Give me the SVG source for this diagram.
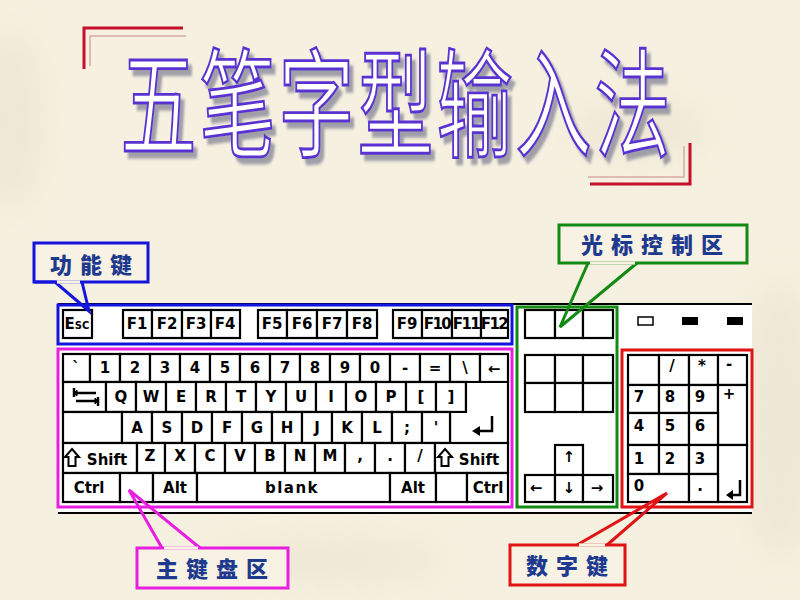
<svg xmlns="http://www.w3.org/2000/svg" width="800" height="600" viewBox="0 0 800 600">
<defs>
<filter id="blur" x="-50%" y="-50%" width="200%" height="200%"><feGaussianBlur stdDeviation="18"/></filter>
<filter id="shadow" x="-10%" y="-10%" width="130%" height="130%"><feDropShadow dx="4" dy="4" stdDeviation="1" flood-color="#8a8a9a" flood-opacity="0.8"/></filter>
<style>
.k{fill:#fff;stroke:#000;stroke-width:2.2}
.t{font-family:"DejaVu Sans","Liberation Sans",sans-serif;font-weight:bold;font-size:15px;text-anchor:middle;fill:#000}
.cap{font-family:"Noto Sans CJK SC",sans-serif;font-weight:900;font-size:22px;fill:#1e3a8e;text-anchor:middle;letter-spacing:8px}
.box{fill:#f8f2e4;stroke-width:3}
.ic{fill:none;stroke:#000;stroke-width:2.5}
</style>
</defs>
<rect width="800" height="600" fill="#f6f0e0"/>
<g opacity="0.4" filter="url(#blur)" fill="#e2d8c2">
<ellipse cx="10" cy="120" rx="30" ry="90"/>
<ellipse cx="780" cy="420" rx="35" ry="140"/>
<ellipse cx="640" cy="130" rx="70" ry="25"/>
<ellipse cx="330" cy="560" rx="120" ry="20"/>
</g>

<g id="title">
<path d="M84,69 V28 H183" fill="none" stroke="#c4102c" stroke-width="3"/>
<path d="M90,66 V36 H186" fill="none" stroke="#d8a8a8" stroke-width="1.5"/>
<path d="M690,143 V184 H590" fill="none" stroke="#c4102c" stroke-width="3"/>
<path d="M684,146 V177 H588" fill="none" stroke="#d8a8a8" stroke-width="1.5"/>
<text transform="translate(397,148) scale(1,1.55)" x="0" y="0" filter="url(#shadow)" style="font-family:'Noto Sans CJK SC',sans-serif;font-size:76px;font-weight:normal;fill:#fff;stroke:#5a32d2;stroke-width:1.8;text-anchor:middle;letter-spacing:3px">五笔字型输入法</text>
</g>

<g id="keyboard">
<rect x="58" y="304" width="694" height="209" fill="#fff"/>
<line x1="58" y1="304" x2="752" y2="304" stroke="#000" stroke-width="2"/>
<line x1="58" y1="513" x2="752" y2="513" stroke="#000" stroke-width="2"/>

<g id="function-keys">
<rect class="k" x="63" y="310" width="29" height="28"/>
<text class="t" x="77" y="329">E<tspan font-size="10px">SC</tspan></text>
<rect class="k" x="123" y="310" width="29" height="28"/><text class="t" x="137" y="329">F1</text>
<rect class="k" x="152" y="310" width="30" height="28"/><text class="t" x="167" y="329">F2</text>
<rect class="k" x="182" y="310" width="29" height="28"/><text class="t" x="196" y="329">F3</text>
<rect class="k" x="211" y="310" width="29" height="28"/><text class="t" x="225" y="329">F4</text>
<rect class="k" x="258" y="310" width="29" height="28"/><text class="t" x="272" y="329">F5</text>
<rect class="k" x="287" y="310" width="30" height="28"/><text class="t" x="302" y="329">F6</text>
<rect class="k" x="317" y="310" width="30" height="28"/><text class="t" x="332" y="329">F7</text>
<rect class="k" x="347" y="310" width="30" height="28"/><text class="t" x="362" y="329">F8</text>
<rect class="k" x="393" y="310" width="29" height="28"/><text class="t" x="407" y="329">F9</text>
<rect class="k" x="422" y="310" width="30" height="28"/><text class="t" x="437" y="329" letter-spacing="-1.5">F10</text>
<rect class="k" x="452" y="310" width="29" height="28"/><text class="t" x="466" y="329" letter-spacing="-1.5">F11</text>
<rect class="k" x="481" y="310" width="27" height="28"/><text class="t" x="494" y="329" letter-spacing="-1.5">F12</text>
</g>

<g id="main-keys">
<rect class="k" x="63" y="354" width="27" height="28"/><text class="t" x="76" y="373">`</text>
<rect class="k" x="90" y="354" width="30" height="28"/><text class="t" x="105" y="373">1</text>
<rect class="k" x="120" y="354" width="30" height="28"/><text class="t" x="135" y="373">2</text>
<rect class="k" x="150" y="354" width="30" height="28"/><text class="t" x="165" y="373">3</text>
<rect class="k" x="180" y="354" width="30" height="28"/><text class="t" x="195" y="373">4</text>
<rect class="k" x="210" y="354" width="30" height="28"/><text class="t" x="225" y="373">5</text>
<rect class="k" x="240" y="354" width="30" height="28"/><text class="t" x="255" y="373">6</text>
<rect class="k" x="270" y="354" width="30" height="28"/><text class="t" x="285" y="373">7</text>
<rect class="k" x="300" y="354" width="30" height="28"/><text class="t" x="315" y="373">8</text>
<rect class="k" x="330" y="354" width="30" height="28"/><text class="t" x="345" y="373">9</text>
<rect class="k" x="360" y="354" width="30" height="28"/><text class="t" x="375" y="373">0</text>
<rect class="k" x="390" y="354" width="30" height="28"/><text class="t" x="405" y="373">-</text>
<rect class="k" x="420" y="354" width="30" height="28"/><text class="t" x="435" y="373">=</text>
<rect class="k" x="450" y="354" width="30" height="28"/><text class="t" x="465" y="373">\</text>
<rect class="k" x="480" y="354" width="28" height="28"/><text class="t" x="494" y="374" font-size="18px">←</text>

<rect class="k" x="63" y="382" width="43" height="30"/>
<path class="ic" d="M74,393 H96 M74,388 V397 M76,401 H98 M98,397 V406" stroke-width="2"/>
<path d="M77,390 L74,393 L77,396 Z M95,398 L98,401 L95,404 Z" fill="#000" stroke="#000" stroke-width="1"/>
<rect class="k" x="106" y="382" width="30" height="30"/><text class="t" x="121" y="402">Q</text>
<rect class="k" x="136" y="382" width="30" height="30"/><text class="t" x="151" y="402">W</text>
<rect class="k" x="166" y="382" width="30" height="30"/><text class="t" x="181" y="402">E</text>
<rect class="k" x="196" y="382" width="30" height="30"/><text class="t" x="211" y="402">R</text>
<rect class="k" x="226" y="382" width="30" height="30"/><text class="t" x="241" y="402">T</text>
<rect class="k" x="256" y="382" width="30" height="30"/><text class="t" x="271" y="402">Y</text>
<rect class="k" x="286" y="382" width="30" height="30"/><text class="t" x="301" y="402">U</text>
<rect class="k" x="316" y="382" width="30" height="30"/><text class="t" x="331" y="402">I</text>
<rect class="k" x="346" y="382" width="30" height="30"/><text class="t" x="361" y="402">O</text>
<rect class="k" x="376" y="382" width="30" height="30"/><text class="t" x="391" y="402">P</text>
<rect class="k" x="406" y="382" width="30" height="30"/><text class="t" x="421" y="402">[</text>
<rect class="k" x="436" y="382" width="30" height="30"/><text class="t" x="451" y="402">]</text>
<path class="k" d="M466,382 H508 V443 H450 V412 H466 Z"/>
<path class="ic" d="M492,416 V431 H478" stroke-width="3"/>
<path d="M480,426 L472,431 L480,436 Z" fill="#000"/>

<rect class="k" x="63" y="412" width="59" height="31"/>
<rect class="k" x="122" y="412" width="30" height="31"/><text class="t" x="137" y="433">A</text>
<rect class="k" x="152" y="412" width="30" height="31"/><text class="t" x="167" y="433">S</text>
<rect class="k" x="182" y="412" width="30" height="31"/><text class="t" x="197" y="433">D</text>
<rect class="k" x="212" y="412" width="30" height="31"/><text class="t" x="227" y="433">F</text>
<rect class="k" x="242" y="412" width="30" height="31"/><text class="t" x="257" y="433">G</text>
<rect class="k" x="272" y="412" width="30" height="31"/><text class="t" x="287" y="433">H</text>
<rect class="k" x="302" y="412" width="30" height="31"/><text class="t" x="317" y="433">J</text>
<rect class="k" x="332" y="412" width="30" height="31"/><text class="t" x="347" y="433">K</text>
<rect class="k" x="362" y="412" width="30" height="31"/><text class="t" x="377" y="433">L</text>
<rect class="k" x="392" y="412" width="30" height="31"/><text class="t" x="407" y="433">;</text>
<rect class="k" x="422" y="412" width="28" height="31"/><text class="t" x="436" y="433">'</text>

<rect class="k" x="63" y="443" width="74" height="30"/>
<path d="M72,449 L79,457 H75.5 V466 H68.5 V457 H65 Z" fill="#fff" stroke="#000" stroke-width="2" stroke-linejoin="miter"/>
<text class="t" x="107" y="465">Shift</text>
<rect class="k" x="137" y="443" width="28" height="30"/><text class="t" x="150" y="461">Z</text>
<rect class="k" x="165" y="443" width="30" height="30"/><text class="t" x="180" y="461">X</text>
<rect class="k" x="195" y="443" width="30" height="30"/><text class="t" x="210" y="461">C</text>
<rect class="k" x="225" y="443" width="30" height="30"/><text class="t" x="240" y="461">V</text>
<rect class="k" x="255" y="443" width="30" height="30"/><text class="t" x="270" y="461">B</text>
<rect class="k" x="285" y="443" width="30" height="30"/><text class="t" x="300" y="461">N</text>
<rect class="k" x="315" y="443" width="30" height="30"/><text class="t" x="330" y="461">M</text>
<rect class="k" x="345" y="443" width="30" height="30"/><text class="t" x="360" y="461">,</text>
<rect class="k" x="375" y="443" width="30" height="30"/><text class="t" x="390" y="461">.</text>
<rect class="k" x="405" y="443" width="30" height="30"/><text class="t" x="420" y="461">/</text>
<rect class="k" x="435" y="443" width="73" height="30"/>
<path d="M445,449 L452,457 H448.5 V466 H441.5 V457 H438 Z" fill="#fff" stroke="#000" stroke-width="2" stroke-linejoin="miter"/>
<text class="t" x="479" y="465">Shift</text>

<rect class="k" x="63" y="473" width="57" height="29"/><text class="t" x="89" y="493">Ctrl</text>
<rect class="k" x="120" y="473" width="33" height="29"/>
<rect class="k" x="153" y="473" width="44" height="29"/><text class="t" x="175" y="493">Alt</text>
<rect class="k" x="197" y="473" width="193" height="29"/><text class="t" x="292" y="493" letter-spacing="1.5">blank</text>
<rect class="k" x="390" y="473" width="46" height="29"/><text class="t" x="413" y="493">Alt</text>
<rect class="k" x="436" y="473" width="31" height="29"/>
<rect class="k" x="467" y="473" width="41" height="29"/><text class="t" x="488" y="493">Ctrl</text>
</g>

<g id="cursor-keys">
<rect class="k" x="525" y="310" width="30" height="28"/>
<rect class="k" x="555" y="310" width="28" height="28"/>
<rect class="k" x="583" y="310" width="30" height="28"/>
<rect class="k" x="525" y="355" width="30" height="28"/>
<rect class="k" x="555" y="355" width="28" height="28"/>
<rect class="k" x="583" y="355" width="30" height="28"/>
<rect class="k" x="525" y="383" width="30" height="29"/>
<rect class="k" x="555" y="383" width="28" height="29"/>
<rect class="k" x="583" y="383" width="30" height="29"/>
<rect class="k" x="555" y="445" width="28" height="30"/><text class="t" x="569" y="462" font-size="13px">↑</text>
<rect class="k" x="525" y="475" width="30" height="27"/><text class="t" x="536" y="493" font-size="13px">←</text>
<rect class="k" x="555" y="475" width="28" height="27"/><text class="t" x="569" y="493" font-size="13px">↓</text>
<rect class="k" x="583" y="475" width="30" height="27"/><text class="t" x="597" y="493" font-size="13px">→</text>
</g>

<g id="numpad">
<rect x="638" y="317" width="15" height="8" fill="#fff" stroke="#000" stroke-width="1.5"/>
<rect x="682" y="317" width="16" height="8" fill="#000"/>
<rect x="727" y="317" width="16" height="8" fill="#000"/>
<rect class="k" x="628" y="355" width="31" height="30"/>
<rect class="k" x="659" y="355" width="30" height="30"/><text class="t" x="672" y="371">/</text>
<rect class="k" x="689" y="355" width="29" height="30"/><text class="t" x="702" y="371">*</text>
<rect class="k" x="718" y="355" width="29" height="30"/><text class="t" x="729" y="369">-</text>
<rect class="k" x="628" y="385" width="31" height="28"/><text class="t" x="639" y="402">7</text>
<rect class="k" x="659" y="385" width="30" height="28"/><text class="t" x="670" y="402">8</text>
<rect class="k" x="689" y="385" width="29" height="28"/><text class="t" x="700" y="402">9</text>
<rect class="k" x="718" y="385" width="29" height="60"/><text class="t" x="729" y="399">+</text>
<rect class="k" x="628" y="413" width="31" height="32"/><text class="t" x="639" y="431">4</text>
<rect class="k" x="659" y="413" width="30" height="32"/><text class="t" x="670" y="431">5</text>
<rect class="k" x="689" y="413" width="29" height="32"/><text class="t" x="700" y="431">6</text>
<rect class="k" x="628" y="445" width="31" height="29"/><text class="t" x="639" y="464">1</text>
<rect class="k" x="659" y="445" width="30" height="29"/><text class="t" x="670" y="464">2</text>
<rect class="k" x="689" y="445" width="29" height="29"/><text class="t" x="700" y="464">3</text>
<rect class="k" x="718" y="445" width="29" height="57"/>
<path class="ic" d="M740,480 V495 H731" stroke-width="3"/>
<path d="M733,490 L726,495 L733,500 Z" fill="#000"/>
<rect class="k" x="628" y="474" width="61" height="28"/><text class="t" x="639" y="491">0</text>
<rect class="k" x="689" y="474" width="29" height="28"/><text class="t" x="700" y="491">.</text>
</g>

<g id="regions" fill="none" stroke-width="3">
<rect x="58" y="305" width="454" height="39" stroke="#1414dc"/>
<rect x="58" y="349" width="454" height="158" stroke="#e81ee0"/>
<rect x="517" y="307" width="100" height="200" stroke="#138a13"/>
<rect x="622" y="350" width="130" height="157" stroke="#e01414"/>
</g>
</g>

<g id="callout-function">
<rect class="box" x="34" y="243" width="114" height="39" stroke="#1414dc"/>
<text class="cap" x="95" y="273">功能键</text>
</g>
<g id="callout-cursor">
<rect class="box" x="559" y="225" width="188" height="38" stroke="#138a13"/>
<text class="cap" x="656" y="253">光标控制区</text>
</g>
<g id="callout-main">
<rect class="box" x="137" y="548" width="151" height="40" stroke="#e81ee0"/>
<text class="cap" x="216" y="577">主键盘区</text>
</g>
<g id="callout-numpad">
<rect class="box" x="510" y="545" width="115" height="40" stroke="#e01414"/>
<text class="cap" x="571" y="574">数字键</text>
</g>

<g id="connectors" fill="none" stroke-width="3" stroke-linejoin="miter">
<path d="M34,282 H55 L89,311 L82,282" stroke="#1414dc"/>
<path d="M588,263 L560,327 L637,263" stroke="#138a13"/>
<path d="M162,548 L129,490 L200,548" stroke="#e81ee0"/>
<path d="M577,545 L667,493 L607,545" stroke="#e01414"/>
<line x1="57" y1="282" x2="80" y2="282" stroke="#f8f2e4" stroke-width="3.2"/>
<line x1="590" y1="263" x2="635" y2="263" stroke="#f8f2e4" stroke-width="3.2"/>
<line x1="164" y1="548" x2="198" y2="548" stroke="#f8f2e4" stroke-width="3.2"/>
<line x1="579" y1="545" x2="605" y2="545" stroke="#f8f2e4" stroke-width="3.2"/>
</g>
</svg>
